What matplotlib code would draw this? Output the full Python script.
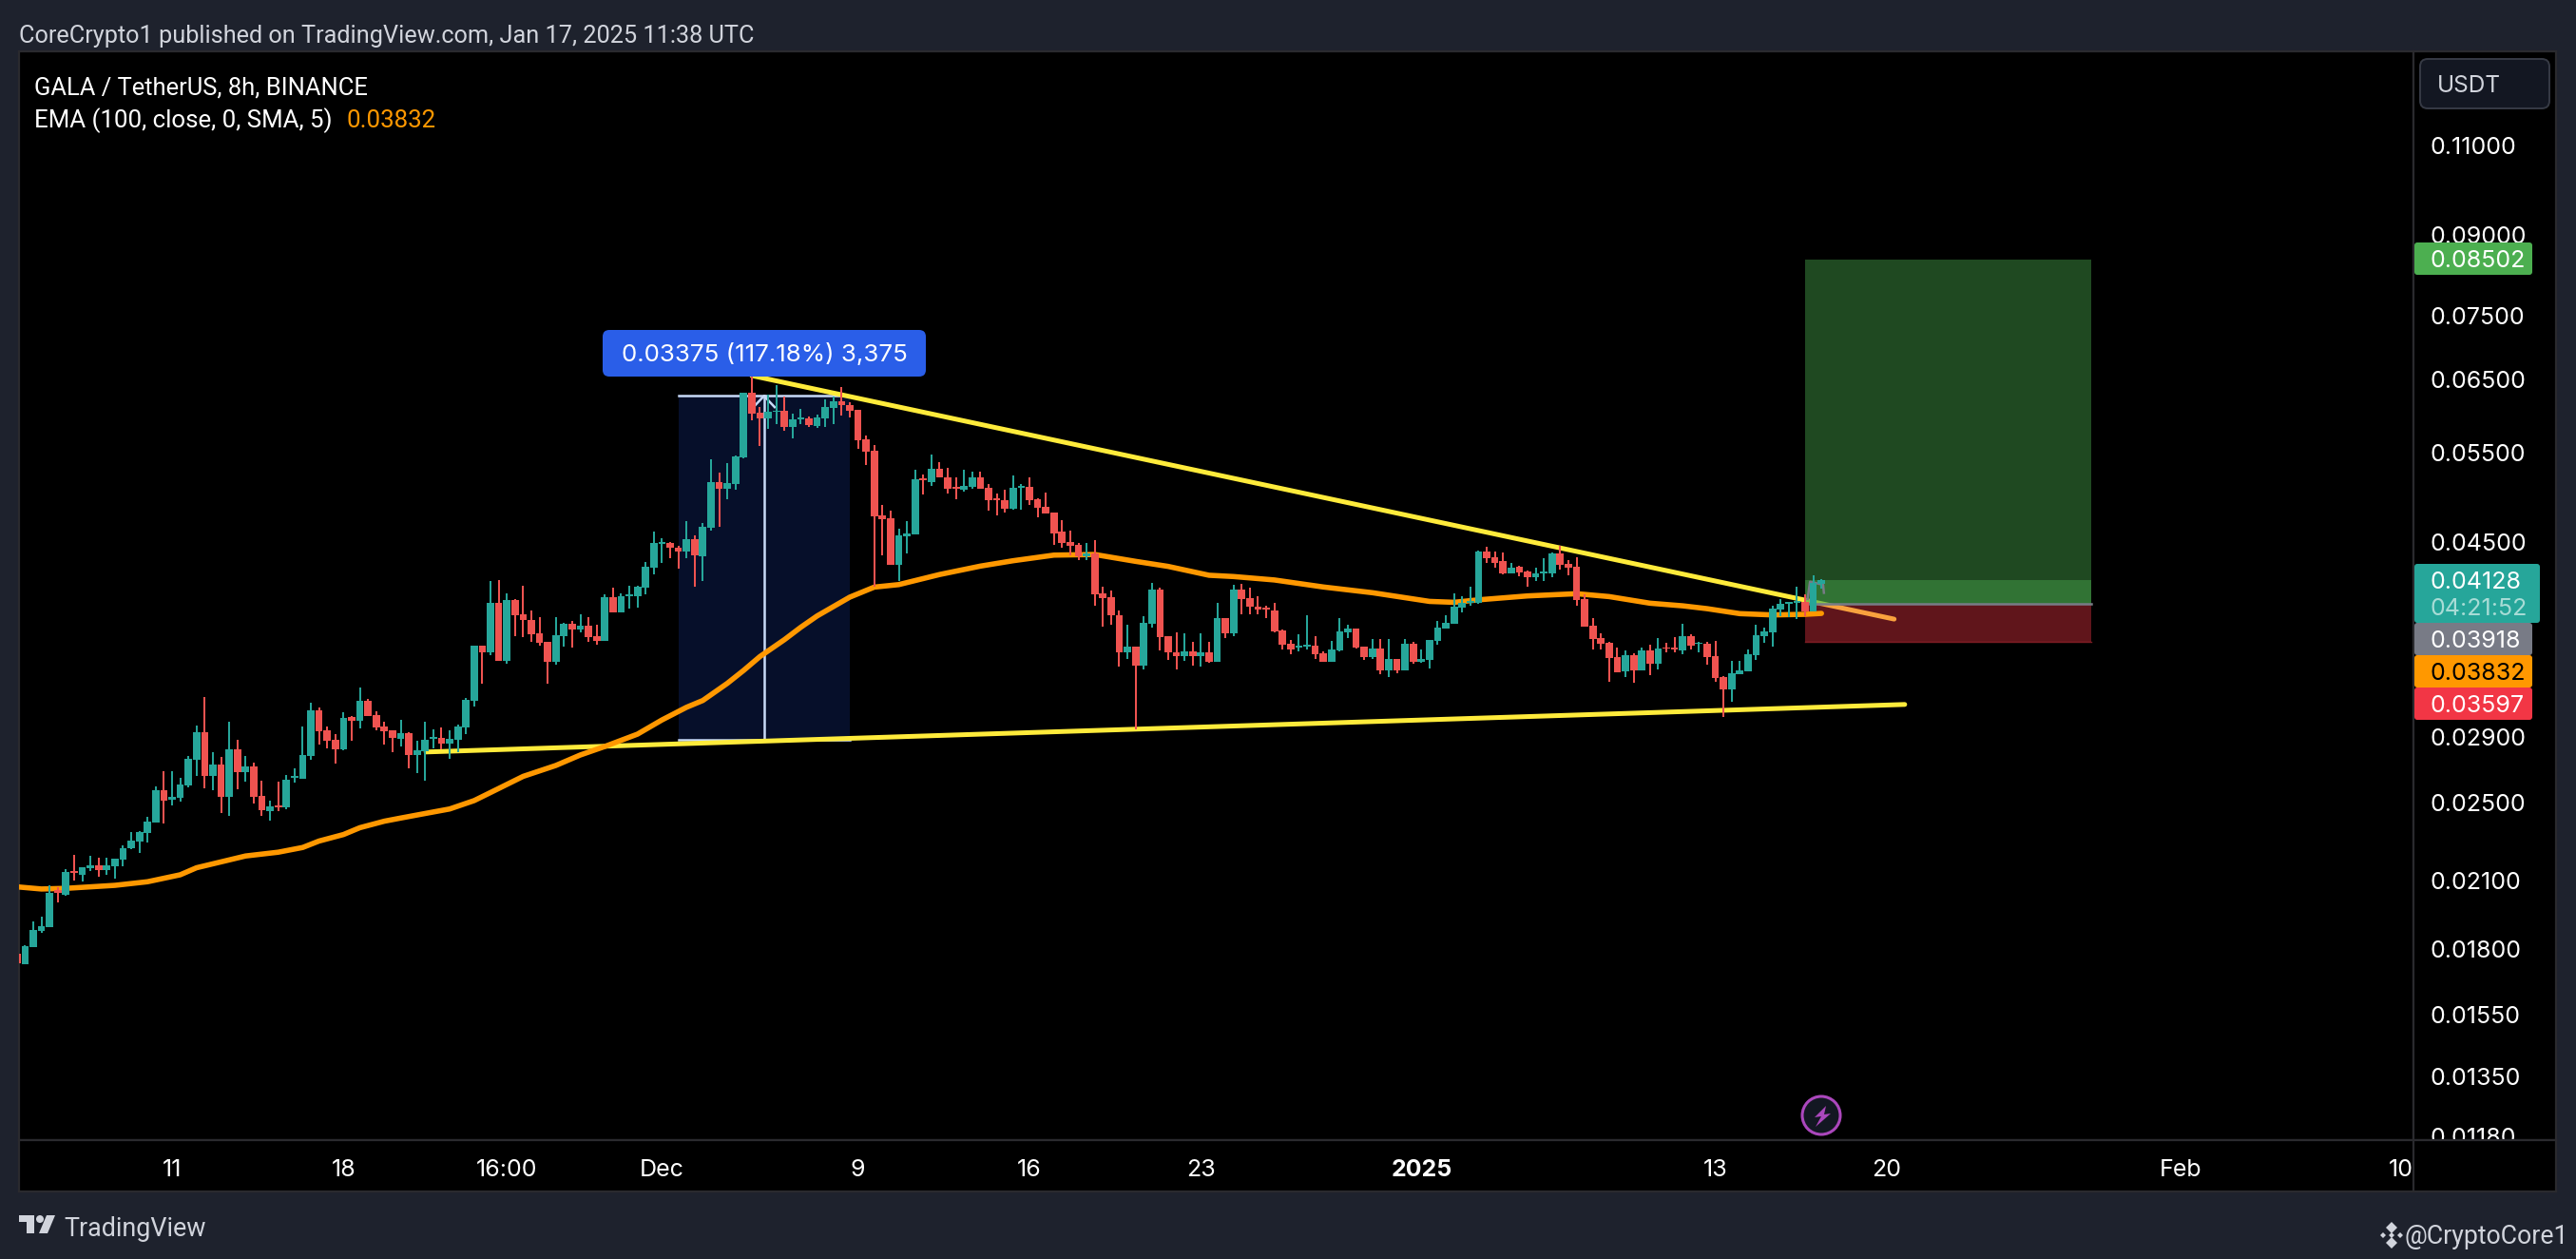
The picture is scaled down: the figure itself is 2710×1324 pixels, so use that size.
import matplotlib
matplotlib.use("Agg")
import matplotlib.pyplot as plt
import numpy as np
from matplotlib.patches import Circle, FancyBboxPatch, Polygon, Rectangle

# GALA/USDT 8h candles, one entry per bar
opens = [.01778,.01738,.01807,.01872,.01889,.02054,.02034,.02144,.02126,.02160,
         .02172,.02149,.02167,.02200,.02256,.02291,.02336,.02392,.02572,.02518,
         .02529,.02600,.02755,.02931,.02656,.02726,.02534,.02821,.02679,.02714,
         .02539,.02454,.02485,.02475,.02644,.02638,.02779,.03080,.02944,.02882,
         .02821,.03034,.03007,.03146,.03047,.02969,.02944,.02888,.02925,.02785,
         .02809,.02888,.02895,.02857,.02882,.02963,.03146,.03563,.03510,.03924,
         .03441,.03948,.03823,.03775,.03663,.03594,.03433,.03640,.03743,.03695,
         .03727,.03640,.03602,.03974,.03841,.03982,.03982,.04063,.04250,.04482,
         .04492,.04444,.04407,.04532,.04361,.04651,.05151,.05077,.05130,.05449,
         .06303,.06026,.05947,.06031,.06053,.05836,.05935,.05947,.05845,.05947,
         .06092,.06180,.06132,.06066,.05676,.05529,.04780,.04750,.04278,.04562,
         .04581,.05197,.05151,.05312,.05208,.05098,.05059,.05095,.05208,.05088,
         .04970,.04949,.04853,.05091,.05098,.04960,.04875,.04811,.04611,.04502,
         .04472,.04361,.04389,.04012,.03977,.03818,.03512,.03557,.03408,.03746,
         .04046,.03642,.03512,.03482,.03520,.03482,.03512,.03437,.03794,.03666,
         .04046,.03969,.03890,.03882,.03857,.03687,.03578,.03548,.03555,.03563,
         .03503,.03435,.03525,.03671,.03703,.03555,.03473,.03540,.03370,.03458,
         .03370,.03578,.03435,.03450,.03601,.03703,.03743,.03882,.03924,.03924,
         .04405,.04349,.04312,.04194,.04256,.04212,.04158,.04194,.04194,.04386,
         .04284,.04256,.03957,.03727,.03625,.03586,.03473,.03362,.03488,.03370,
         .03525,.03420,.03548,.03545,.03525,.03640,.03576,.03578,.03479,.03319,
         .03228,.03340,.03362,.03487,.03640,.03671,.03865,.03915,.03924,.03933,.03849,.04096]
highs = [.01778,.01814,.01913,.01934,.02076,.02066,.02153,.02223,.02163,.02218,
         .02209,.02209,.02204,.02271,.02341,.02345,.02423,.02594,.02685,.02685,
         .02644,.02779,.02976,.03173,.02801,.02772,.03000,.02882,.02779,.02737,
         .02628,.02512,.02622,.02661,.02702,.02969,.03133,.03100,.02969,.02919,
         .03067,.03040,.03242,.03160,.03074,.03000,.02944,.03014,.02931,.02876,
         .03000,.02950,.02963,.02944,.02982,.03166,.03563,.03563,.04122,.04131,
         .04008,.03956,.04078,.03858,.03799,.03594,.03799,.03751,.03767,.03823,
         .03799,.03735,.03998,.04060,.04008,.04078,.04078,.04306,.04611,.04542,
         .04502,.04463,.04721,.04572,.04701,.05422,.05258,.05381,.05472,.06303,
         .06680,.06101,.06277,.06411,.06246,.06013,.06079,.05968,.06000,.06211,
         .06246,.06383,.06167,.06066,.05726,.05603,.04896,.04830,.04641,.04721,
         .05300,.05243,.05484,.05392,.05323,.05208,.05300,.05277,.05277,.05130,
         .05024,.05066,.05231,.05130,.05208,.04970,.05034,.04811,.04730,.04621,
         .04492,.04492,.04522,.04072,.04037,.03858,.03738,.03557,.03810,.04106,
         .04063,.03642,.03674,.03666,.03595,.03666,.03595,.03926,.03794,.04089,
         .04098,.04063,.03983,.03899,.03924,.03695,.03609,.03656,.03815,.03640,
         .03518,.03601,.03791,.03735,.03703,.03555,.03617,.03617,.03617,.03458,
         .03617,.03594,.03533,.03609,.03767,.03815,.04009,.03983,.04070,.04414,
         .04452,.04405,.04396,.04293,.04265,.04220,.04247,.04339,.04396,.04462,
         .04321,.04349,.04000,.03791,.03663,.03594,.03548,.03525,.03503,.03548,
         .03570,.03624,.03586,.03632,.03742,.03656,.03593,.03593,.03601,.03326,
         .03442,.03442,.03532,.03734,.03711,.03898,.03958,.03933,.04069,.04000,.04175,.04140]
lows = [.01741,.01738,.01807,.01865,.01889,.01997,.02028,.02099,.02095,.02144,
        .02117,.02126,.02108,.02167,.02253,.02233,.02286,.02392,.02386,.02485,
        .02507,.02589,.02656,.02583,.02572,.02443,.02428,.02577,.02622,.02496,
        .02428,.02402,.02454,.02464,.02617,.02638,.02755,.02851,.02827,.02731,
        .02815,.02876,.02957,.03040,.02944,.02851,.02801,.02839,.02702,.02672,
        .02628,.02827,.02821,.02761,.02801,.02919,.03107,.03270,.03488,.03441,
        .03420,.03640,.03632,.03594,.03563,.03270,.03413,.03555,.03548,.03671,
        .03594,.03570,.03602,.03841,.03841,.03874,.03882,.04003,.04186,.04297,
        .04343,.04241,.04343,.04072,.04124,.04618,.04661,.04960,.05059,.05430,
        .05926,.05590,.05812,.05865,.05783,.05681,.05865,.05832,.05824,.05832,
        .05877,.05991,.05960,.05553,.05357,.04066,.04370,.04278,.04118,.04389,
        .04581,.05013,.05109,.05208,.05024,.04960,.05045,.05077,.05077,.04830,
        .04780,.04811,.04843,.04843,.04896,.04760,.04800,.04472,.04444,.04370,
        .04324,.04324,.03900,.03722,.03738,.03400,.03460,.02952,.03378,.03714,
        .03527,.03452,.03378,.03445,.03408,.03400,.03430,.03437,.03626,.03642,
        .03826,.03826,.03824,.03791,.03671,.03533,.03495,.03518,.03533,.03458,
        .03435,.03435,.03518,.03625,.03540,.03450,.03458,.03341,.03320,.03348,
        .03370,.03420,.03428,.03384,.03570,.03703,.03743,.03840,.03899,.03916,
        .04293,.04247,.04185,.04194,.04167,.04070,.04123,.04123,.04158,.04229,
        .04176,.03899,.03719,.03533,.03533,.03283,.03355,.03320,.03276,.03370,
        .03334,.03377,.03510,.03510,.03494,.03532,.03510,.03413,.03284,.03034,
        .03140,.03340,.03362,.03450,.03586,.03555,.03808,.03800,.03783,.03808,.03849,.04052]
closes = [.01741,.01810,.01877,.01893,.02042,.02042,.02140,.02136,.02163,.02172,
          .02149,.02171,.02204,.02257,.02296,.02341,.02397,.02572,.02512,.02534,
          .02605,.02761,.02931,.02656,.02726,.02534,.02821,.02679,.02714,.02534,
          .02459,.02480,.02475,.02633,.02656,.02785,.03080,.02937,.02876,.02821,
          .03027,.03007,.03146,.03040,.02963,.02937,.02895,.02925,.02785,.02815,
          .02882,.02900,.02857,.02888,.02969,.03153,.03563,.03510,.03924,.03441,
          .03948,.03816,.03775,.03655,.03586,.03433,.03648,.03743,.03695,.03727,
          .03632,.03602,.03974,.03841,.03982,.03998,.04069,.04260,.04492,.04502,
          .04444,.04407,.04532,.04370,.04661,.05151,.05080,.05137,.05461,.06303,
          .06013,.05947,.06039,.06053,.05836,.05935,.05960,.05853,.05960,.06101,
          .06180,.06132,.06053,.05664,.05518,.04774,.04740,.04278,.04572,.04591,
          .05186,.05174,.05312,.05208,.05077,.05077,.05109,.05208,.05077,.04949,
          .04949,.04853,.05088,.05109,.04949,.04864,.04800,.04591,.04492,.04463,
          .04361,.04389,.04003,.03969,.03818,.03512,.03557,.03408,.03754,.04046,
          .03634,.03512,.03482,.03520,.03482,.03512,.03437,.03794,.03666,.04046,
          .03960,.03891,.03865,.03865,.03679,.03570,.03533,.03563,.03570,.03495,
          .03435,.03533,.03679,.03703,.03548,.03473,.03540,.03370,.03458,.03370,
          .03578,.03435,.03458,.03609,.03711,.03751,.03890,.03924,.03940,.04405,
          .04339,.04293,.04194,.04247,.04203,.04158,.04194,.04212,.04386,.04275,
          .04247,.03949,.03719,.03617,.03578,.03465,.03355,.03488,.03370,.03525,
          .03420,.03540,.03537,.03535,.03640,.03563,.03586,.03472,.03312,.03228,
          .03348,.03369,.03494,.03648,.03679,.03873,.03915,.03933,.03941,.03849,.04105,.04128]

ema_bars = [0,3,6,12,16,20,22,28,32,35,37,40,42,45,47,50,53,56,58,62,66,69,72,76,79,82,84,87,89,91,
            94,96,98,102,105,108,113,118,122,127,132,137,141,146,149,154,160,166,173,176,179,185,
            191,195,200,204,207,211,215,219,221]
ema_vals = [.02069,.02059,.02062,.02076,.02093,.02126,.02160,.02218,.02237,.02261,.02294,.02328,
            .02364,.02399,.02416,.02441,.02466,.02513,.02559,.02654,.02720,.02785,.02839,.02919,
            .03014,.03101,.03149,.03273,.03370,.03477,.03612,.03714,.03810,.03975,.04066,.04089,
            .04183,.04263,.04315,.04370,.04376,.04309,.04260,.04176,.04164,.04132,.04067,.04015,
            .03937,.03929,.03951,.03986,.04006,.03980,.03921,.03898,.03873,.03830,.03819,.03824,.03832]

# drawings
upper_bars = [90, 229.9]
upper_vals = [.06549, .03783]
lower_bars = [50.1, 231.2]
lower_vals = [.02804, .03121]
measure_bars = [81, 91.5, 102]
measure_low = .02881
measure_high = .06256
entry = .03918
stop = .03597
target = .08502
last_price = .04128
ema_last = .03832
box_bars = [219, 254]
path_bars = [219.3, 219.6, 221.2, 221.3]
path_vals = [.03958, .04116, .04087, .04014]

price_ticks = [.11, .09, .075, .065, .055, .045, .029, .025, .021, .018, .0155, .0135, .0118]
time_ticks = [19, 40, 60, 79, 103, 124, 145, 172, 208, 229, 265, 292]
time_labels = ["11", "18", "16:00", "Dec", "9", "16", "23", "2025", "13", "20", "Feb", "10"]

W, H = 2710, 1324
BG = "#1e222d"
BORDER = "#2a2a2e"
UP = "#26a69a"
DOWN = "#ef5350"
YELLOW = "#ffeb3b"
ORANGE = "#ff9800"
TEXT = "#ffffff"
SOFT = "#d1d4dc"
UI = ["Inter", "DejaVu Sans"]
HEAD = ["Roboto", "DejaVu Sans"]
VA = "center_baseline"


def pane(left, top, right, bottom, z):
    a = fig.add_axes([left / W, 1 - bottom / H, (right - left) / W, (bottom - top) / H])
    a.set_facecolor("black")
    a.set_zorder(z)
    a.set_xticks([])
    a.set_yticks([])
    for s in a.spines.values():
        s.set_color(BORDER)
        s.set_linewidth(0.8)
    return a


fig = plt.figure(figsize=(W / 200, H / 200), dpi=200, facecolor=BG)

ax = pane(20, 54, 2539, 1199, 1)
ax.set_yscale("log")
ax.set_xlim(0.257, 293.5)
ax.set_ylim(.01169, .13602)
ax.minorticks_off()
ax.set_yticks([])
ax.set_xticks([])

o = np.array(opens)
h = np.array(highs)
l = np.array(lows)
c = np.array(closes)
bars = np.arange(len(o))
cols = np.where(c >= o, UP, DOWN)

# measure tool
ax.add_patch(Rectangle((measure_bars[0], measure_low), measure_bars[2] - measure_bars[0],
                       measure_high - measure_low, facecolor="#060f2a", edgecolor="none", zorder=1))
ax.plot([measure_bars[0], measure_bars[2]], [measure_high, measure_high], color="#c8daf8", lw=0.9, zorder=2)
ax.plot([measure_bars[0], measure_bars[2]], [measure_low, measure_low], color="#c8daf8", lw=0.9, zorder=2)
ax.plot([measure_bars[1], measure_bars[1]], [measure_low, measure_high], color="#c8daf8", lw=0.9, zorder=2)
ax.plot([measure_bars[1] - 1.3, measure_bars[1], measure_bars[1] + 1.3], [.0610, measure_high, .0610],
        color="#c8daf8", lw=0.9, zorder=2)

# trend lines sit under the position tool
ax.plot(upper_bars, upper_vals, color=YELLOW, lw=1.8, solid_capstyle="round", zorder=3)
ax.plot(lower_bars, lower_vals, color=YELLOW, lw=1.8, solid_capstyle="round", zorder=3)

# long position
bw = box_bars[1] - box_bars[0]
ax.add_patch(Rectangle((box_bars[0], entry), bw, target - entry, facecolor="#4caf50", alpha=0.42, lw=0, zorder=4))
ax.add_patch(Rectangle((box_bars[0], entry), bw, last_price - entry, facecolor="#4caf50", alpha=0.42, lw=0, zorder=4))
ax.add_patch(Rectangle((box_bars[0], stop), bw, entry - stop, facecolor="#f23645", alpha=0.40, lw=0, zorder=4))
ax.plot(box_bars, [entry, entry], color="#787b86", lw=0.9, zorder=4)
ax.plot(box_bars, [stop, stop], color="#f23645", lw=0.5, alpha=0.5, zorder=4)
ax.plot(path_bars, path_vals, color="#787b86", lw=0.9, zorder=4)

ax.plot(ema_bars, ema_vals, color=ORANGE, lw=2.0, solid_capstyle="round", solid_joinstyle="round", zorder=5)

ax.vlines(bars, l, h, colors=cols, lw=0.72, zorder=6)
ax.bar(bars, np.abs(c - o), bottom=np.minimum(o, c), width=0.9, color=cols, linewidth=0, zorder=7)

# price scale
ax_price = pane(2539, 54, 2689, 1199, 2)
ax_price.set_yscale("log")
ax_price.set_xlim(0, 1)
ax_price.set_ylim(.01169, .13602)
ax_price.minorticks_off()
ax_price.set_yticks([])
for p in price_ticks:
    ax_price.text(0.12, p, "%.5f" % p, color=TEXT, fontsize=9.0, family=UI, va=VA, ha="left")

# time scale goes over the price scale so the lowest tick is cut like in the app
ax_time = pane(20, 1199, 2689, 1253, 3)
ax_time.set_xlim(0.257, 0.257 + (2689 - 20) / 8.59)
ax_time.set_ylim(0, 1)
corner = ax_time.axvline(0.257 + (2539 - 20) / 8.59, color=BORDER, lw=0.8)
clip = Rectangle((0.257, 0), (2539 - 20) / 8.59, 1, transform=ax_time.transData)
for b, t in zip(time_ticks, time_labels):
    txt = ax_time.text(b, 0.46, t, color=TEXT, fontsize=9.0, family=UI, ha="center", va=VA,
                       fontweight="bold" if t == "2025" else "normal")
    txt.set_clip_path(clip)

# overlay in image pixels for the app chrome
ov = fig.add_axes([0, 0, 1, 1])
ov.set_xlim(0, W)
ov.set_ylim(H, 0)
ov.axis("off")
ov.set_zorder(10)

ov.text(20, 35, "CoreCrypto1 published on TradingView.com, Jan 17, 2025 11:38 UTC", color=SOFT,
        fontsize=9.1, family=HEAD, va=VA)
ov.text(36, 90, "GALA / TetherUS, 8h, BINANCE", color=TEXT, fontsize=9.2, family=HEAD, va=VA)
ov.text(36, 124, "EMA (100, close, 0, SMA, 5)", color=TEXT, fontsize=9.3, family=HEAD, va=VA)
ov.text(365, 124, "%.5f" % ema_last, color=ORANGE, fontsize=9.3, family=HEAD, va=VA)

ov.add_patch(FancyBboxPatch((634, 347), 340, 49, boxstyle="round,pad=0,rounding_size=7",
                            facecolor="#2a5ee8", edgecolor="none"))
ov.text(804, 371, "0.03375 (117.18%) 3,375", color=TEXT, fontsize=9.35, family=UI, ha="center", va=VA)

# USDT button
ov.add_patch(FancyBboxPatch((2546, 62), 136, 52, boxstyle="round,pad=0,rounding_size=8",
                            facecolor="#131722", edgecolor="#363a45", lw=0.7))
ov.text(2564, 88, "USDT", color=SOFT, fontsize=8.8, family=UI, va=VA)

tags = [(255, 289, 2664, "#4caf50", "%.5f" % target, TEXT),
        (655, 689, 2664, "#787b86", "%.5f" % entry, TEXT),
        (689, 723, 2664, ORANGE, "%.5f" % ema_last, "black"),
        (723, 757, 2664, "#f23645", "%.5f" % stop, TEXT),
        (593, 655, 2672, "#26a69a", "%.5f" % last_price, TEXT)]
for top, bot, right, col, s, tc in tags:
    ov.add_patch(FancyBboxPatch((2540, top), right - 2540, bot - top, boxstyle="round,pad=0,rounding_size=3",
                                facecolor=col, edgecolor="none"))
    ov.text(2557, (top + bot) / 2 if bot - top < 40 else 610, s, color=tc, fontsize=9.0, family=UI, va=VA)
ov.text(2557, 638, "04:21:52", color="#a8dcd6", fontsize=9.0, family=UI, va=VA)

# lightning badge
ov.add_patch(Circle((1916, 1173), 20, facecolor="#131722", edgecolor="#ab47bc", lw=1.1))
ov.add_patch(Polygon([(1921, 1163), (1909, 1175), (1916, 1174), (1910, 1185), (1926, 1171), (1919, 1172)],
                     facecolor="#ab47bc", edgecolor="none"))

# TradingView logo
logo = "#d1d4dc"
ov.add_patch(Polygon([(20, 1278), (36, 1278), (36, 1297), (28, 1297), (28, 1285), (20, 1285)],
                     facecolor=logo, edgecolor="none"))
ov.add_patch(Circle((42, 1282), 4, facecolor=logo, edgecolor="none"))
ov.add_patch(Polygon([(49, 1278), (58, 1278), (50, 1297), (41, 1297)], facecolor=logo, edgecolor="none"))
ov.text(67, 1289, "TradingView", color=logo, fontsize=9.7, family=HEAD, va=VA)

# Binance mark
for dx, dy, r in [(0, -8, 6), (-9, 0, 3), (9, 0, 3), (0, 8, 6), (0, 0, 3)]:
    ov.add_patch(Polygon([(2516 + dx - r, 1299 + dy), (2516 + dx, 1299 + dy - r),
                          (2516 + dx + r, 1299 + dy), (2516 + dx, 1299 + dy + r)],
                         facecolor=logo, edgecolor="none"))
ov.text(2702, 1298, "@CryptoCore1", color=logo, fontsize=9.6, family=HEAD, ha="right", va=VA)

fig.savefig("out.png", dpi=200, facecolor=BG)
